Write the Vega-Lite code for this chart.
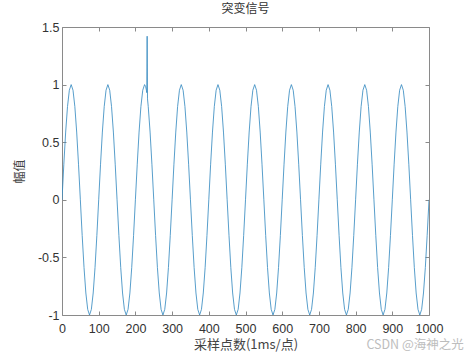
{
"$schema": "https://vega.github.io/schema/vega-lite/v6.json",
"width": 367, "height": 288,
"autosize": {"type": "none"},
"padding": {"left": 62, "top": 27, "right": 45, "bottom": 40},
"background": "white",
"title": {"text": "突变信号", "font": "Noto Sans CJK SC", "fontSize": 12, "fontWeight": "normal", "color": "#333", "offset": 5},
"config": {
  "view": {"stroke": null},
  "axis": {"grid": false, "domainColor": "#8a8a8a", "tickColor": "#8a8a8a", "labelColor": "#333", "labelFont": "Liberation Sans", "labelFontSize": 12.5, "tickSize": -4, "titleFont": "Noto Sans CJK SC", "titleFontWeight": "normal", "titleColor": "#444"}
},
"resolve": {"axis": {"x": "independent", "y": "independent"}},
"datasets": {"signal": [
{"x":0,"y":0},{"x":5,"y":0.309},{"x":10,"y":0.588},{"x":15,"y":0.809},{"x":20,"y":0.951},{"x":25,"y":1},{"x":30,"y":0.951},{"x":35,"y":0.809},{"x":40,"y":0.588},{"x":45,"y":0.309},{"x":50,"y":0},{"x":55,"y":-0.309},{"x":60,"y":-0.588},{"x":65,"y":-0.809},{"x":70,"y":-0.951},{"x":75,"y":-1},{"x":80,"y":-0.951},{"x":85,"y":-0.809},{"x":90,"y":-0.588},{"x":95,"y":-0.309},
{"x":100,"y":0},{"x":105,"y":0.309},{"x":110,"y":0.588},{"x":115,"y":0.809},{"x":120,"y":0.951},{"x":125,"y":1},{"x":130,"y":0.951},{"x":135,"y":0.809},{"x":140,"y":0.588},{"x":145,"y":0.309},{"x":150,"y":0},{"x":155,"y":-0.309},{"x":160,"y":-0.588},{"x":165,"y":-0.809},{"x":170,"y":-0.951},{"x":175,"y":-1},{"x":180,"y":-0.951},{"x":185,"y":-0.809},{"x":190,"y":-0.588},{"x":195,"y":-0.309},
{"x":200,"y":0},{"x":205,"y":0.309},{"x":210,"y":0.588},{"x":215,"y":0.809},{"x":220,"y":0.951},{"x":225,"y":1},{"x":228,"y":0.982},{"x":230,"y":0.951},{"x":231,"y":0.93},{"x":232,"y":1.42},{"x":233,"y":0.876},{"x":235,"y":0.809},{"x":240,"y":0.588},{"x":245,"y":0.309},{"x":250,"y":0},{"x":255,"y":-0.309},{"x":260,"y":-0.588},{"x":265,"y":-0.809},{"x":270,"y":-0.951},{"x":275,"y":-1},{"x":280,"y":-0.951},{"x":285,"y":-0.809},{"x":290,"y":-0.588},{"x":295,"y":-0.309},
{"x":300,"y":0},{"x":305,"y":0.309},{"x":310,"y":0.588},{"x":315,"y":0.809},{"x":320,"y":0.951},{"x":325,"y":1},{"x":330,"y":0.951},{"x":335,"y":0.809},{"x":340,"y":0.588},{"x":345,"y":0.309},{"x":350,"y":0},{"x":355,"y":-0.309},{"x":360,"y":-0.588},{"x":365,"y":-0.809},{"x":370,"y":-0.951},{"x":375,"y":-1},{"x":380,"y":-0.951},{"x":385,"y":-0.809},{"x":390,"y":-0.588},{"x":395,"y":-0.309},
{"x":400,"y":0},{"x":405,"y":0.309},{"x":410,"y":0.588},{"x":415,"y":0.809},{"x":420,"y":0.951},{"x":425,"y":1},{"x":430,"y":0.951},{"x":435,"y":0.809},{"x":440,"y":0.588},{"x":445,"y":0.309},{"x":450,"y":0},{"x":455,"y":-0.309},{"x":460,"y":-0.588},{"x":465,"y":-0.809},{"x":470,"y":-0.951},{"x":475,"y":-1},{"x":480,"y":-0.951},{"x":485,"y":-0.809},{"x":490,"y":-0.588},{"x":495,"y":-0.309},
{"x":500,"y":0},{"x":505,"y":0.309},{"x":510,"y":0.588},{"x":515,"y":0.809},{"x":520,"y":0.951},{"x":525,"y":1},{"x":530,"y":0.951},{"x":535,"y":0.809},{"x":540,"y":0.588},{"x":545,"y":0.309},{"x":550,"y":0},{"x":555,"y":-0.309},{"x":560,"y":-0.588},{"x":565,"y":-0.809},{"x":570,"y":-0.951},{"x":575,"y":-1},{"x":580,"y":-0.951},{"x":585,"y":-0.809},{"x":590,"y":-0.588},{"x":595,"y":-0.309},
{"x":600,"y":0},{"x":605,"y":0.309},{"x":610,"y":0.588},{"x":615,"y":0.809},{"x":620,"y":0.951},{"x":625,"y":1},{"x":630,"y":0.951},{"x":635,"y":0.809},{"x":640,"y":0.588},{"x":645,"y":0.309},{"x":650,"y":0},{"x":655,"y":-0.309},{"x":660,"y":-0.588},{"x":665,"y":-0.809},{"x":670,"y":-0.951},{"x":675,"y":-1},{"x":680,"y":-0.951},{"x":685,"y":-0.809},{"x":690,"y":-0.588},{"x":695,"y":-0.309},
{"x":700,"y":0},{"x":705,"y":0.309},{"x":710,"y":0.588},{"x":715,"y":0.809},{"x":720,"y":0.951},{"x":725,"y":1},{"x":730,"y":0.951},{"x":735,"y":0.809},{"x":740,"y":0.588},{"x":745,"y":0.309},{"x":750,"y":0},{"x":755,"y":-0.309},{"x":760,"y":-0.588},{"x":765,"y":-0.809},{"x":770,"y":-0.951},{"x":775,"y":-1},{"x":780,"y":-0.951},{"x":785,"y":-0.809},{"x":790,"y":-0.588},{"x":795,"y":-0.309},
{"x":800,"y":0},{"x":805,"y":0.309},{"x":810,"y":0.588},{"x":815,"y":0.809},{"x":820,"y":0.951},{"x":825,"y":1},{"x":830,"y":0.951},{"x":835,"y":0.809},{"x":840,"y":0.588},{"x":845,"y":0.309},{"x":850,"y":0},{"x":855,"y":-0.309},{"x":860,"y":-0.588},{"x":865,"y":-0.809},{"x":870,"y":-0.951},{"x":875,"y":-1},{"x":880,"y":-0.951},{"x":885,"y":-0.809},{"x":890,"y":-0.588},{"x":895,"y":-0.309},
{"x":900,"y":0},{"x":905,"y":0.309},{"x":910,"y":0.588},{"x":915,"y":0.809},{"x":920,"y":0.951},{"x":925,"y":1},{"x":930,"y":0.951},{"x":935,"y":0.809},{"x":940,"y":0.588},{"x":945,"y":0.309},{"x":950,"y":0},{"x":955,"y":-0.309},{"x":960,"y":-0.588},{"x":965,"y":-0.809},{"x":970,"y":-0.951},{"x":975,"y":-1},{"x":980,"y":-0.951},{"x":985,"y":-0.809},{"x":990,"y":-0.588},{"x":995,"y":-0.309},
{"x":1000,"y":0}
], "note": [{"label": "CSDN @海神之光"}]},
"layer": [
  {
    "data": {"name": "signal"},
    "mark": {"type": "line", "color": "#3a8dc2", "strokeWidth": 0.85, "clip": true},
    "encoding": {
      "x": {"field": "x", "type": "quantitative", "scale": {"domain": [0, 1000], "nice": false, "zero": false},
            "axis": {"orient": "bottom", "values": [0,100,200,300,400,500,600,700,800,900,1000], "labelExpr": "toString(datum.value)", "title": "采样点数(1ms/点)", "titleFontSize": 13, "labelPadding": 11, "titlePadding": 4, "labelFlush": false}},
      "y": {"field": "y", "type": "quantitative", "scale": {"domain": [-1, 1.5], "nice": false, "zero": false},
            "axis": {"orient": "left", "values": [-1,-0.5,0,0.5,1,1.5], "labelExpr": "toString(datum.value)", "title": "幅值", "titleFontSize": 12, "labelPadding": 7, "titlePadding": 11, "labelFlush": false}}
    }
  },
  {
    "data": {"name": "signal"},
    "mark": {"type": "line", "opacity": 0},
    "encoding": {
      "x": {"field": "x", "type": "quantitative",
            "axis": {"orient": "top", "values": [0,100,200,300,400,500,600,700,800,900,1000], "labels": false, "title": null}},
      "y": {"field": "y", "type": "quantitative",
            "axis": {"orient": "right", "values": [-1,-0.5,0,0.5,1,1.5], "labels": false, "title": null}}
    }
  },
  {
    "data": {"name": "note"},
    "mark": {"type": "text", "font": "Noto Sans CJK SC", "fontSize": 12.5, "color": "#bdbdbd", "align": "center", "baseline": "middle"},
    "encoding": {
      "text": {"field": "label", "type": "nominal"},
      "x": {"datum": 962, "type": "quantitative", "axis": null},
      "y": {"datum": -1.262, "type": "quantitative", "axis": null}
    }
  }
]
}
